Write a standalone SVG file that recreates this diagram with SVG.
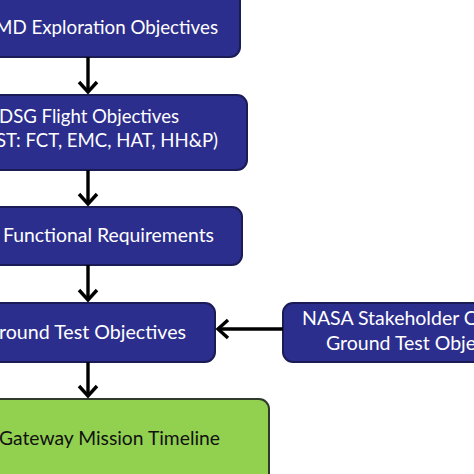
<svg xmlns="http://www.w3.org/2000/svg" width="474" height="474" viewBox="0 0 474 474">
<defs>
<marker id="ah" viewBox="0 0 22 22" refX="19" refY="11" markerWidth="22" markerHeight="22" markerUnits="userSpaceOnUse" orient="auto">
<path d="M9,2 L19,11 L9,20" fill="none" stroke="#000" stroke-width="3.4"/>
</marker>
<style>
.b{fill:#2C2E8D;stroke:#1B1C55;stroke-width:2}
.g{fill:#92D050;stroke:#2F3A2A;stroke-width:2}
.t{font-family:Lato,"Open Sans",sans-serif;font-size:19.5px;fill:#fff}
.k{font-family:Lato,"Open Sans",sans-serif;font-size:19.5px;fill:#111}
.c{stroke:#000;stroke-width:3.4;fill:none}
</style>
</defs>
<rect width="474" height="474" fill="#fff"/>
<g id="n1"><rect class="b" x="-20" y="-10" width="260" height="67" rx="10"/><text class="t" x="-5" y="34" textLength="223" lengthAdjust="spacingAndGlyphs">MD Exploration Objectives</text></g>
<g id="n2"><rect class="b" x="-20" y="95" width="267" height="75" rx="10"/><text class="t" x="-1" y="123" textLength="180" lengthAdjust="spacingAndGlyphs">DSG Flight Objectives</text><text class="t" x="-4" y="147" textLength="222" lengthAdjust="spacingAndGlyphs">ST: FCT, EMC, HAT, HH&amp;P)</text></g>
<g id="n3"><rect class="b" x="-20" y="207" width="262" height="58" rx="10"/><text class="t" x="3" y="242" textLength="211" lengthAdjust="spacingAndGlyphs">Functional Requirements</text></g>
<g id="n4"><rect class="b" x="-20" y="303" width="235" height="59" rx="10"/><text class="t" x="-1" y="339" textLength="187" lengthAdjust="spacingAndGlyphs">round Test Objectives</text></g>
<g id="n5"><rect class="b" x="283" y="303" width="220" height="59" rx="10"/><text class="t" x="302" y="325">NASA Stakeholder C</text><text class="t" x="326" y="350">Ground Test Obje</text></g>
<g id="n6"><rect class="g" x="-20" y="399" width="289" height="90" rx="10"/><text class="k" x="-1" y="445" textLength="221" lengthAdjust="spacingAndGlyphs">Gateway Mission Timeline</text></g>
<g id="connectors">
<line class="c" x1="88" y1="57" x2="88" y2="92" marker-end="url(#ah)"/>
<line class="c" x1="88" y1="170" x2="88" y2="204" marker-end="url(#ah)"/>
<line class="c" x1="88" y1="265" x2="88" y2="300" marker-end="url(#ah)"/>
<line class="c" x1="88" y1="362" x2="88" y2="396" marker-end="url(#ah)"/>
<line class="c" x1="283" y1="329" x2="218" y2="329" stroke-width="5" marker-end="url(#ah)"/>
</g>
</svg>
